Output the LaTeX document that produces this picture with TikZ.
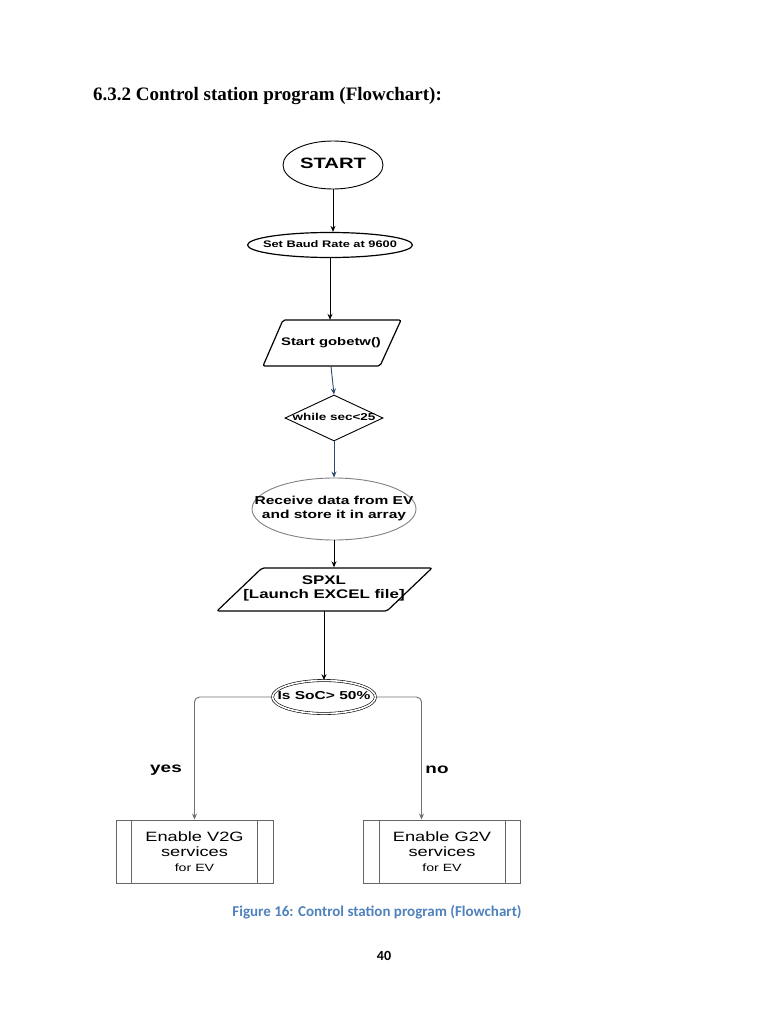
\documentclass[tikz,border=0pt]{standalone}
\usepackage{fontspec}
\setmainfont{Liberation Serif}
\setsansfont{Liberation Sans}
\newfontfamily\capfont{Carlito}
\newfontfamily\diagfont[FakeStretch=1.35]{Liberation Sans}
\usetikzlibrary{shapes.geometric,arrows.meta}
\definecolor{capblue}{HTML}{4F81BD}
\definecolor{lineblue}{HTML}{2E4A6E}
\definecolor{branchgray}{HTML}{707070}
\newcommand{\zw}[1]{\makebox[0pt]{\begin{tabular}{@{}c@{}}#1\end{tabular}}}
\tikzset{
  every node/.style={font=\diagfont},
  ell/.style={ellipse, draw, line width=0.9pt, inner sep=0pt},
  plain/.style={inner sep=0pt},
  arr/.style={-{Stealth[length=6pt,width=5pt]}, line width=0.9pt},
  proc/.style={draw, line width=0.9pt, minimum width=157pt, minimum height=63pt, inner sep=0pt, align=center},
}
\begin{document}
\begin{tikzpicture}[x=1pt,y=-1pt]
\useasboundingbox (0,0) rectangle (768,1024);
% title
\node[anchor=west, font=\rmfamily\bfseries\fontsize{19}{21}\selectfont, plain] (title) at (93,96) {6.3.2 Control station program (Flowchart):};

% START
\node[ell, minimum width=100pt, minimum height=48pt, font=\diagfont\bfseries\fontsize{15}{17}\selectfont] (start) at (333,165) {\zw{START}};
% baud
\node[ell, line width=1.2pt, minimum width=165pt, minimum height=25pt, font=\diagfont\bfseries\fontsize{9.5}{11}\selectfont] (baud) at (330,245) {\zw{Set Baud Rate at 9600}};
% parallelogram 1
\node[plain, minimum width=118pt, minimum height=46pt, font=\diagfont\bfseries\fontsize{11}{13}\selectfont] (gob) at (331,343) {\zw{Start gobetw()}};
\draw[line width=1.2pt, rounded corners=2pt] (283,320) -- (401,320) -- (380,366) -- (263,366) -- cycle;
% diamond
\node[diamond, draw, line width=0.9pt, minimum width=98pt, minimum height=46pt, inner sep=0pt, font=\diagfont\bfseries\fontsize{10}{12}\selectfont] (whl) at (334,418) {\zw{while sec<25}};
% receive ellipse
\node[ell, draw=gray, minimum width=164pt, minimum height=62pt, font=\diagfont\bfseries\fontsize{11.5}{13.5}\selectfont] (recv) at (334,509) {\zw{Receive data from EV\\and store it in array}};
% parallelogram 2
\node[plain, minimum width=170pt, minimum height=43pt, font=\diagfont\bfseries\fontsize{12.5}{14}\selectfont] (spxl) at (324,589) {\zw{SPXL\\{}[Launch EXCEL file]}};
\draw[line width=1.2pt, rounded corners=2pt] (262,568) -- (432,568) -- (387,611) -- (217,611) -- cycle;
% decision
\node[ellipse, draw, line width=0.6pt, double=white, double distance=1.6pt, minimum width=103pt, minimum height=33pt, inner sep=0pt, font=\diagfont\bfseries\fontsize{11.5}{13}\selectfont] (soc) at (324,697) {\zw{Is SoC> 50\%}};
% boxes
\node[proc, draw=gray!80!black, font=\diagfont\fontsize{13.5}{15}\selectfont] (v2g) at (194.5,851.5) {Enable V2G\\services\\{\fontsize{10.5}{12.5}\selectfont for EV}};
\draw[gray!80!black, line width=0.9pt] ([xshift=16pt]v2g.north west) -- ([xshift=16pt]v2g.south west);
\draw[gray!80!black, line width=0.9pt] ([xshift=-16pt]v2g.north east) -- ([xshift=-16pt]v2g.south east);
\node[proc, draw=gray!80!black, font=\diagfont\fontsize{13.5}{15}\selectfont] (g2v) at (442,851.5) {Enable G2V\\services\\{\fontsize{10.5}{12.5}\selectfont for EV}};
\draw[gray!80!black, line width=0.9pt] ([xshift=16pt]g2v.north west) -- ([xshift=16pt]g2v.south west);
\draw[gray!80!black, line width=0.9pt] ([xshift=-16pt]g2v.north east) -- ([xshift=-16pt]g2v.south east);

% labels
\node[plain, font=\diagfont\bfseries\fontsize{14}{16}\selectfont] (yes) at (166,770) {yes};
\node[plain, font=\diagfont\bfseries\fontsize{14}{16}\selectfont] (no) at (437,770) {no};

% connectors
\draw[arr] (start.south) -- (start.south |- baud.north);
\draw[arr] (baud.south) -- (baud.south |- gob.north);
\draw[arr, lineblue] (gob.south) -- (whl.north);
\draw[arr, lineblue] (whl.south) -- (recv.north);
\draw[arr] (recv.south) -- (recv.south |- spxl.north);
\draw[arr] (spxl.south) -- (soc.north);
\draw[arr, branchgray, rounded corners=5pt] (soc.west) -- (v2g.north |- soc.west) -- (v2g.north);
\draw[arr, branchgray, rounded corners=5pt] (soc.east) -- ([xshift=-20.5pt]g2v.north |- soc.east) -- ([xshift=-20.5pt]g2v.north);

% caption
\node[plain, text=capblue, font=\capfont\bfseries\fontsize{15}{17}\selectfont] (cap) at (377,912) {Figure 16: Control station program (Flowchart)};
\node[plain, font=\capfont\bfseries\fontsize{14}{16}\selectfont] (pg) at (384,956) {40};
\end{tikzpicture}
\end{document}
